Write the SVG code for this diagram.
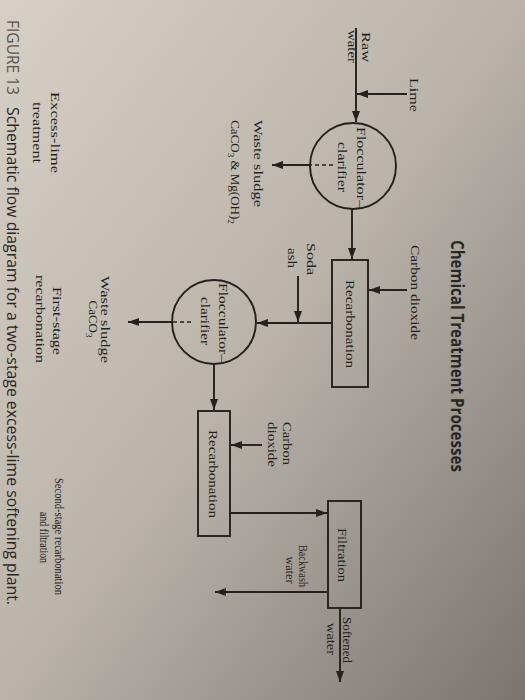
<svg xmlns="http://www.w3.org/2000/svg" width="525" height="700" viewBox="0 0 525 700">
<defs>
<linearGradient id="bg" x1="0" y1="0" x2="1" y2="1">
<stop offset="0" stop-color="#d6d0c6"/>
<stop offset="0.5" stop-color="#b9b3aa"/>
<stop offset="1" stop-color="#7a7571"/>
</linearGradient>
<marker id="ah" markerUnits="userSpaceOnUse" markerWidth="11" markerHeight="8" refX="11" refY="4" orient="auto">
<path d="M0,0 L11,4 L0,8 z" fill="#24201d"/>
</marker>
<style>
.ln{stroke:#24201d;stroke-width:1.9;fill:none}
.ar{stroke:#24201d;stroke-width:1.9;fill:none;marker-end:url(#ah)}
.ds{stroke:#24201d;stroke-width:1.5;fill:none;stroke-dasharray:4 3}
.shape{stroke:#24201d;stroke-width:1.9;fill:none}
.t{font-family:"Liberation Serif",serif;font-size:13px;fill:#231f1c;text-anchor:middle}
.s{font-family:"Liberation Serif",serif;font-size:12px;fill:#2d2925;text-anchor:middle}
.title{font-family:"Open Sans","Liberation Sans",sans-serif;font-size:17px;font-weight:bold;fill:#2a2623;text-anchor:middle}
.cap{font-family:"Open Sans","Liberation Sans",sans-serif;font-size:16px;fill:#2a2623}
</style>
</defs>
<rect x="0" y="0" width="525" height="700" fill="url(#bg)"/>

<text class="title" transform="translate(451,356) rotate(90)" textLength="232" lengthAdjust="spacingAndGlyphs">Chemical Treatment Processes</text>

<g id="connectors">
<path class="ar" d="M356,28 L356,122"/>
<path class="ar" d="M407,94 L357,94"/>
<path class="ar" d="M311,165 L272,165"/>
<path class="ds" d="M333,165 L311,165"/>
<path class="ar" d="M352,209 L352,259"/>
<path class="ar" d="M407,290 L369,290"/>
<path class="ar" d="M332,323 L257,323"/>
<path class="ar" d="M298,276 L298,322"/>
<path class="ar" d="M172,322 L128,322"/>
<path class="ds" d="M191,322 L172,322"/>
<path class="ar" d="M214,364 L214,410"/>
<path class="ar" d="M262,445 L231,445"/>
<path class="ar" d="M230,513 L327,513"/>
<path class="ar" d="M328,592 L215,592"/>
<path class="ar" d="M340,608 L340,682"/>
</g>

<g id="raw-water">
<text class="t" transform="translate(362,47) rotate(90)" textLength="30" lengthAdjust="spacingAndGlyphs">Raw</text>
<text class="t" transform="translate(348,46.5) rotate(90)" textLength="33" lengthAdjust="spacingAndGlyphs">water</text>
</g>
<g id="lime">
<text class="t" transform="translate(410,95) rotate(90)" textLength="34" lengthAdjust="spacingAndGlyphs">Lime</text>
</g>
<g id="clarifier1">
<circle class="shape" cx="353" cy="166" r="43"/>
<text class="t" transform="translate(357,167.5) rotate(90)" textLength="81" lengthAdjust="spacingAndGlyphs">Flocculator–</text>
<text class="t" transform="translate(338,167) rotate(90)" textLength="50" lengthAdjust="spacingAndGlyphs">clarifier</text>
</g>
<g id="sludge1">
<text class="t" transform="translate(254,163.5) rotate(90)" textLength="87" lengthAdjust="spacingAndGlyphs">Waste sludge</text>
<text class="t" transform="translate(231,172) rotate(90)">CaCO<tspan font-size="9" dy="3">3</tspan><tspan dy="-3"> &amp; Mg(OH)</tspan><tspan font-size="9" dy="3">2</tspan></text>
</g>
<g id="recarbonation1">
<rect class="shape" x="332" y="260" width="36" height="127"/>
<text class="t" transform="translate(346,324) rotate(90)" textLength="88" lengthAdjust="spacingAndGlyphs">Recarbonation</text>
</g>
<g id="co2-1">
<text class="t" transform="translate(411,292.5) rotate(90)" textLength="95" lengthAdjust="spacingAndGlyphs">Carbon dioxide</text>
</g>
<g id="soda-ash">
<text class="t" transform="translate(307,259) rotate(90)" textLength="32" lengthAdjust="spacingAndGlyphs">Soda</text>
<text class="t" transform="translate(288,258) rotate(90)" textLength="20" lengthAdjust="spacingAndGlyphs">ash</text>
</g>
<g id="clarifier2">
<circle class="shape" cx="214" cy="322" r="42"/>
<text class="t" transform="translate(219,322.5) rotate(90)" textLength="79" lengthAdjust="spacingAndGlyphs">Flocculator–</text>
<text class="t" transform="translate(201,321) rotate(90)" textLength="48" lengthAdjust="spacingAndGlyphs">clarifier</text>
</g>
<g id="sludge2">
<text class="t" transform="translate(101,319.5) rotate(90)" textLength="87" lengthAdjust="spacingAndGlyphs">Waste sludge</text>
<text class="t" transform="translate(89,319) rotate(90)">CaCO<tspan font-size="9" dy="3">3</tspan></text>
</g>
<g id="recarbonation2">
<rect class="shape" x="198" y="411" width="32" height="125"/>
<text class="t" transform="translate(209,474) rotate(90)" textLength="88" lengthAdjust="spacingAndGlyphs">Recarbonation</text>
</g>
<g id="co2-2">
<text class="t" transform="translate(283,443.5) rotate(90)" textLength="43" lengthAdjust="spacingAndGlyphs">Carbon</text>
<text class="t" transform="translate(268,444.5) rotate(90)" textLength="45" lengthAdjust="spacingAndGlyphs">dioxide</text>
</g>
<g id="filtration">
<rect class="shape" x="328" y="501" width="33" height="107"/>
<text class="t" transform="translate(338,555) rotate(90)" textLength="54" lengthAdjust="spacingAndGlyphs">Filtration</text>
</g>
<g id="backwash">
<text class="s" transform="translate(299,566) rotate(90)" textLength="42" lengthAdjust="spacingAndGlyphs">Backwash</text>
<text class="s" transform="translate(286,570) rotate(90)" textLength="27" lengthAdjust="spacingAndGlyphs">water</text>
</g>
<g id="softened">
<text class="t" transform="translate(343,640) rotate(90)" textLength="46" lengthAdjust="spacingAndGlyphs">Softened</text>
<text class="t" transform="translate(327,639) rotate(90)" textLength="32" lengthAdjust="spacingAndGlyphs">water</text>
</g>
<g id="stage-labels">
<text class="t" transform="translate(51,132.5) rotate(90)" textLength="81" lengthAdjust="spacingAndGlyphs">Excess-lime</text>
<text class="t" transform="translate(33,132.5) rotate(90)" textLength="61" lengthAdjust="spacingAndGlyphs">treatment</text>
<text class="t" transform="translate(53,321) rotate(90)" textLength="68" lengthAdjust="spacingAndGlyphs">First-stage</text>
<text class="t" transform="translate(36,319) rotate(90)" textLength="88" lengthAdjust="spacingAndGlyphs">recarbonation</text>
<text class="t" transform="translate(55,536.5) rotate(90)" textLength="117" lengthAdjust="spacingAndGlyphs">Second-stage recarbonation</text>
<text class="t" transform="translate(40,537.5) rotate(90)" textLength="51" lengthAdjust="spacingAndGlyphs">and filtration</text>
</g>
<text class="cap" transform="translate(7,20) rotate(90)" textLength="75" lengthAdjust="spacingAndGlyphs" style="fill:#5a554f">FIGURE 13</text>
<text class="cap" transform="translate(7,107) rotate(90)" textLength="498" lengthAdjust="spacingAndGlyphs">Schematic flow diagram for a two-stage excess-lime softening plant.</text>
</svg>
